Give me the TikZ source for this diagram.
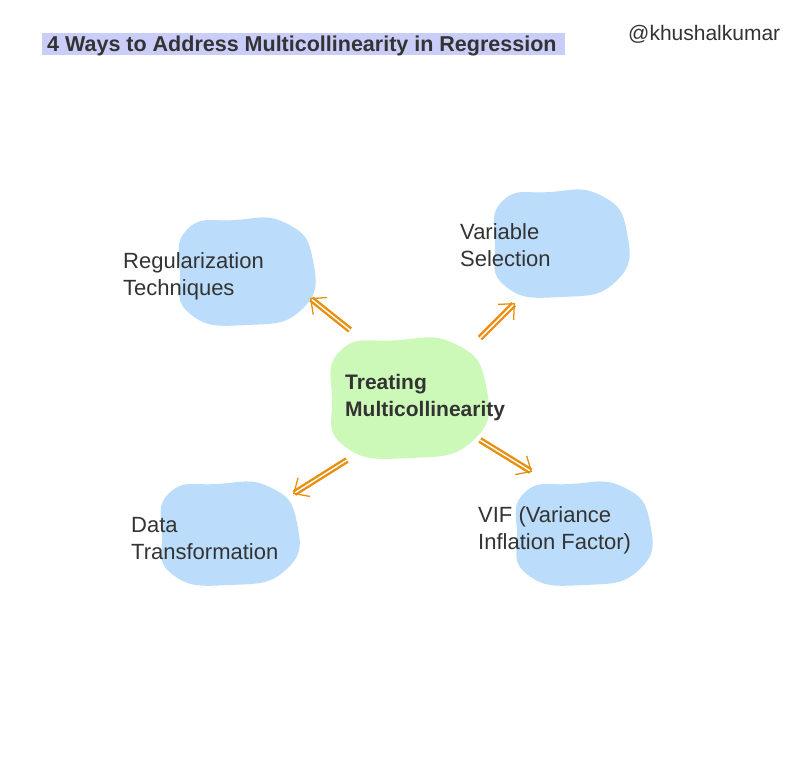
\documentclass[tikz,border=0pt]{standalone}
\usepackage{fontspec}
\setmainfont{Liberation Sans}
\usetikzlibrary{arrows.meta}
\definecolor{blobblue}{HTML}{BBDDFB}
\definecolor{blobgreen}{HTML}{CCF8B8}
\definecolor{hl}{HTML}{C9CDF8}
\definecolor{txt}{HTML}{333333}
\definecolor{arr}{HTML}{E8900E}
\newcommand\myblob[5]{%
\begin{scope}[shift={(#1,#2)},xscale=#3,yscale=#4]
\fill[#5] plot[smooth cycle,tension=0.9] coordinates {(0.06,0.1)(0.4,0.02)(0.8,0.05)(1,0.4)(0.92,0.85)(0.5,1)(0.08,0.9)(0,0.5)};
\end{scope}}
\tikzset{lab/.style={text=txt,font=\fontsize{22}{27}\selectfont,align=left,anchor=north west,inner sep=0pt},
conn/.style={arr,line width=2.4pt,double=white,double distance=1.4pt,-{Straight Barb[length=12pt,width=22pt,line width=1.3pt]}}}
\begin{document}
\begin{tikzpicture}[x=1pt,y=-1pt]
\useasboundingbox (0,0) rectangle (800,761);
\fill[white] (0,0) rectangle (800,761);
\fill[hl] (42,33) rectangle (565,55);
\node[anchor=west,inner sep=0pt,font=\bfseries\fontsize{21.5}{22}\selectfont,text=txt] (title) at (47,46) {4 Ways to Address Multicollinearity in Regression};
\node[anchor=west,inner sep=0pt,font=\fontsize{21}{22}\selectfont,text=txt] (handle) at (628,34) {@khushalkumar};
\myblob{180}{218}{133}{107}{blobblue}
\myblob{495}{190}{132}{107}{blobblue}
\myblob{332}{338}{154}{120}{blobgreen}
\myblob{162}{482}{135}{103}{blobblue}
\myblob{517}{482}{133}{103}{blobblue}
\node[lab] (reg) at (123,252) {Regularization\\Techniques};
\node[lab] (var) at (460,223) {Variable\\Selection};
\node[lab,font=\bfseries\fontsize{21}{27}\selectfont] (ctr) at (345,374) {Treating\\Multicollinearity};
\node[lab] (dat) at (131,517) {Data\\Transformation};
\node[lab] (vif) at (478,506) {VIF (Variance\\Inflation Factor)};
\coordinate (a1) at (350,330); \coordinate (b1) at (310,298);
\coordinate (a2) at (480,338); \coordinate (b2) at (515,303);
\coordinate (a3) at (347,460); \coordinate (b3) at (293,494);
\coordinate (a4) at (480,440); \coordinate (b4) at (532,472);
\draw[conn] (a1) -- (b1);
\draw[conn] (a2) -- (b2);
\draw[conn] (a3) -- (b3);
\draw[conn] (a4) -- (b4);
\end{tikzpicture}
\end{document}
